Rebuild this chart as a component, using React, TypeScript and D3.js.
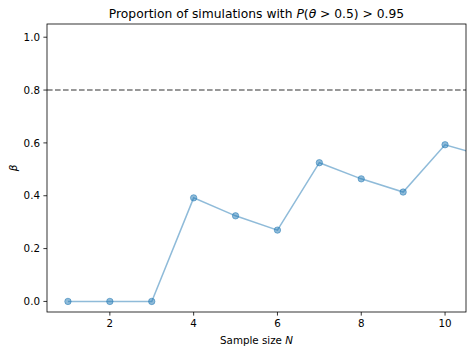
import React from 'react';
import * as d3 from 'd3';

// values
const sampleSizes = [1, 2, 3, 4, 5, 6, 7, 8, 9, 10, 11];
const betaValues = [0, 0, 0, 0.392, 0.324, 0.27, 0.525, 0.464, 0.414, 0.593, 0.547];
const xTicks = [2, 4, 6, 8, 10];
const yTicks = [0, 0.2, 0.4, 0.6, 0.8, 1.0];
const threshold = 0.8;

const width = 474;
const height = 354;
const margin = { top: 24, right: 8, bottom: 42, left: 47 };
const font = "'DejaVu Sans', sans-serif";
const blue = '#1f77b4';

export default function App() {
    const x = d3.scaleLinear().domain([0.5, 10.5]).range([margin.left, width - margin.right]);
    const y = d3.scaleLinear().domain([-0.04, 1.05]).range([height - margin.bottom, margin.top]);

    const lineGen = d3.line<number>()
        .x((d, i) => x(sampleSizes[i]))
        .y(d => y(d));

    const x0 = margin.left;
    const x1 = width - margin.right;
    const y0 = height - margin.bottom;
    const y1 = margin.top;
    const midX = (x0 + x1) / 2;

    return (
        <svg width={width} height={height} style={{ position: 'absolute', left: 0, top: 0, background: '#fff' }}
            fontFamily={font}>
            <defs>
                <clipPath id="plotArea">
                    <rect x={x0} y={y1} width={x1 - x0} height={y0 - y1} />
                </clipPath>
            </defs>
            <rect x={0} y={0} width={width} height={height} fill="#fff" />

            <g clipPath="url(#plotArea)">
                <line x1={x0} x2={x1} y1={y(threshold)} y2={y(threshold)}
                    stroke="#777" strokeWidth={1.5} strokeDasharray="5.6,2.4" />
                <path d={lineGen(betaValues) || ''} fill="none" stroke={blue} strokeOpacity={0.5} strokeWidth={1.5} />
                {betaValues.map((v, i) => (
                    <circle key={i} cx={x(sampleSizes[i])} cy={y(v)} r={3.2} fill={blue} fillOpacity={0.5}
                        stroke={blue} strokeOpacity={0.5} strokeWidth={1} />
                ))}
            </g>

            <rect x={x0} y={y1} width={x1 - x0} height={y0 - y1} fill="none" stroke="#000" strokeWidth={0.8} />

            {xTicks.map(t => (
                <g key={t} transform={`translate(${x(t)},${y0})`}>
                    <line y2={3.6} stroke="#000" strokeWidth={0.8} />
                    <text y={15} textAnchor="middle" fontSize={10.3} fill="#000">{t}</text>
                </g>
            ))}
            {yTicks.map(t => (
                <g key={t} transform={`translate(${x0},${y(t)})`}>
                    <line x2={-3.6} stroke="#000" strokeWidth={0.8} />
                    <text x={-7} dy="0.35em" textAnchor="end" fontSize={10.3} fill="#000">{t.toFixed(1)}</text>
                </g>
            ))}

            <text x={midX} y={344} textAnchor="middle" fontSize={10.3} fill="#000">
                Sample size <tspan fontStyle="italic">N</tspan>
            </text>
            <text transform={`translate(17,${(y0 + y1) / 2}) rotate(-90)`} textAnchor="middle" fontSize={10.3}
                fontStyle="italic" fill="#000">β</text>

            <text x={midX} y={18} textAnchor="middle" fontSize={12.3} fill="#000">
                Proportion of simulations with <tspan fontStyle="italic">P</tspan>(<tspan fontStyle="italic">θ</tspan> &gt; 0.5) &gt; 0.95
            </text>
        </svg>
    );
}
